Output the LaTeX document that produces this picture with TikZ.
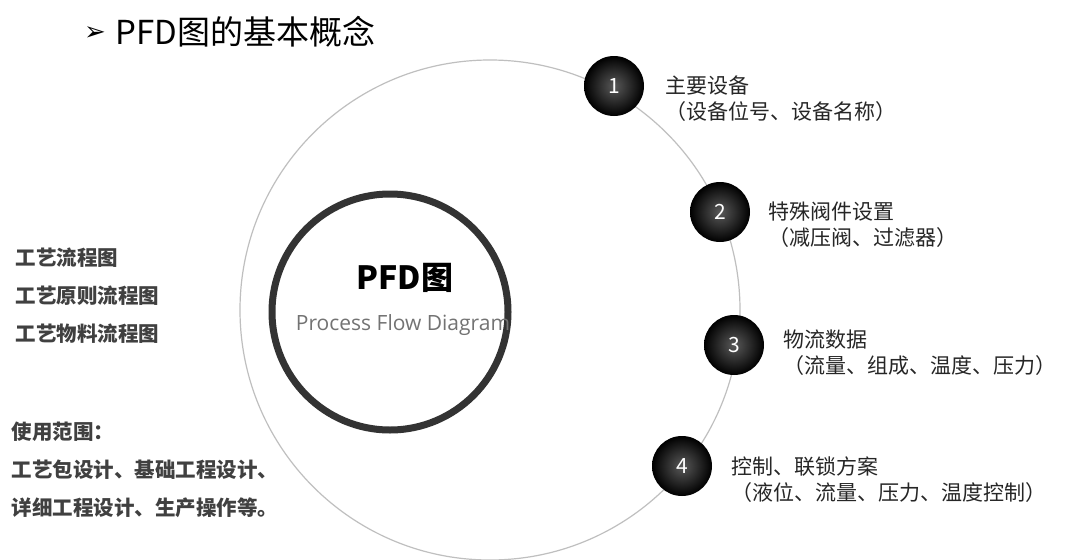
\documentclass[tikz,border=0pt]{standalone}
\usepackage{fontspec}
\setmainfont{Noto Sans CJK SC}
\newfontfamily\sym{DejaVu Sans}
\newfontfamily\lat{Open Sans}
\begin{document}
\begin{tikzpicture}[x=1pt,y=-1pt,
  num/.style={circle,minimum size=60pt,inner sep=0pt,inner color=gray!70!black,outer color=black,text=white,font=\fontsize{21}{21}\selectfont},
  lbl/.style={anchor=west,font=\fontsize{21}{24}\selectfont,text=black!85},
  side/.style={anchor=west,font=\fontsize{20.5}{24}\selectfont\bfseries,text=black!75}]
\useasboundingbox (0,0) rectangle (1080,560);
\fill[white] (0,0) rectangle (1080,560);
\node[anchor=west,font=\fontsize{33}{34}\selectfont,inner sep=0pt] (title) at (115,32) {PFD图的基本概念};
\node[anchor=east,font=\sym\fontsize{26}{26}\selectfont,inner sep=0pt] (arr) at (106,34) {➢};
\draw[black!25,line width=1.2pt] (490,310) circle (250);
\draw[black!80,line width=7pt] (390,312) circle (118);
\node[font=\fontsize{32}{32}\selectfont\bfseries] (pfd) at (405,278) {PFD图};
\node[font=\lat\fontsize{21}{21}\selectfont,text=black!55] (pfdsub) at (403,325) {Process Flow Diagram};
\node[num] (n1) at (614,86) {1};
\node[num] (n2) at (720,212) {2};
\node[num] (n3) at (734,345) {3};
\node[num] (n4) at (682,466) {4};
\node[lbl] (t1) at (662,86) {主要设备};
\node[lbl] (s1) at (662,112) {（设备位号、设备名称）};
\node[lbl] (t2) at (765,212) {特殊阀件设置};
\node[lbl] (s2) at (765,238) {（减压阀、过滤器）};
\node[lbl] (t3) at (780,340) {物流数据};
\node[lbl] (s3) at (780,366) {（流量、组成、温度、压力）};
\node[lbl] (t4) at (728,467) {控制、联锁方案};
\node[lbl] (s4) at (728,493) {（液位、流量、压力、温度控制）};
\node[side] (a1) at (12,258) {工艺流程图};
\node[side] (a2) at (12,296) {工艺原则流程图};
\node[side] (a3) at (12,334) {工艺物料流程图};
\node[side] (b1) at (8,432) {使用范围：};
\node[side] (b2) at (8,470) {工艺包设计、基础工程设计、};
\node[side] (b3) at (8,508) {详细工程设计、生产操作等。};
\end{tikzpicture}
\end{document}
